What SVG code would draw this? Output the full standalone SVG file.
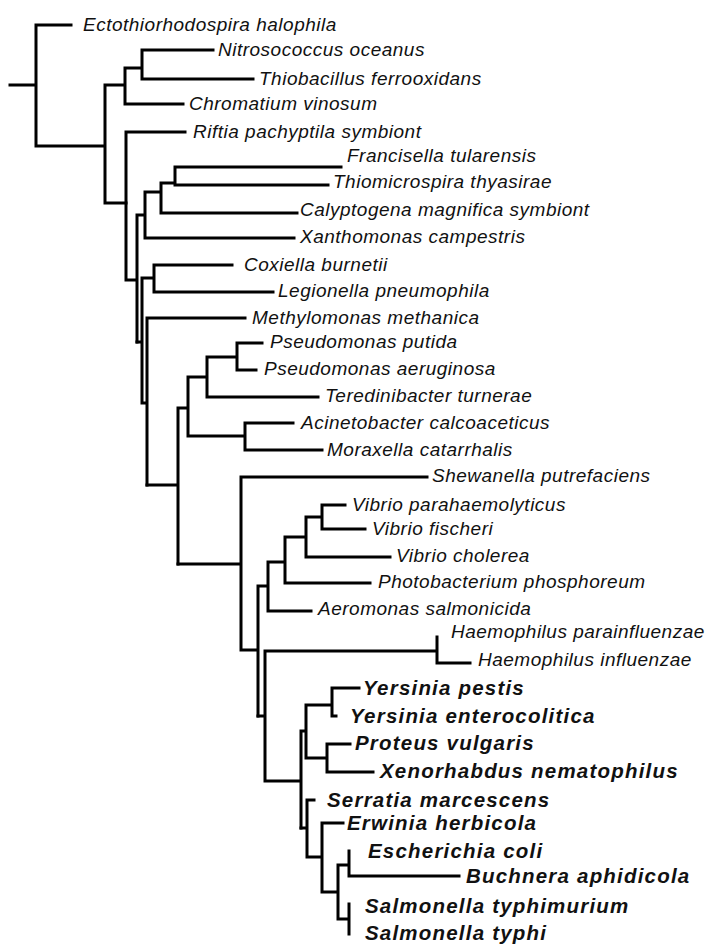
<svg xmlns="http://www.w3.org/2000/svg" width="723" height="951" viewBox="0 0 723 951">
<style>
.e{stroke:#000;stroke-width:3;fill:none;stroke-linecap:square}
text{font-family:"Liberation Sans",Arial,sans-serif;font-size:19px;letter-spacing:0.5px;font-style:italic;fill:#111}
.b{font-weight:bold;font-size:20.5px;letter-spacing:1.2px}
</style>
<rect width="723" height="951" fill="#fff"/>
<g id="connectors" class="e">
<path d="M10,85H36M36,25V146M36,25H71M36,146H105M105,85V203M105,85H125M125,68V104M125,68H142M142,50V79M142,50H213M142,79H253M125,104H183M105,203H126"/>
<path d="M126,132V280M126,132H185M126,280H137M137,215V342M137,215H145M145,192V238M145,192H161M161,183V213M161,183H175M175,167V185M175,167H341M175,185H328M161,213H297M145,238H294"/>
<path d="M137,342H142M142,278V403M142,278H154M154,265V292M154,265H232M154,292H273M142,403H147M147,318V485M147,318H245"/>
<path d="M147,485H178M178,408V564M178,408H188M188,377V436M188,377H207M207,357V397M207,357H237M237,343V370M237,343H262M237,370H256M207,397H318M188,436H245M245,423V450M245,423H293M245,450H322"/>
<path d="M178,564H241M241,477V650M241,477H427M241,650H258M258,586V716M258,586H268M268,562V611M268,611H311M268,562H285M285,537V583M285,583H370M285,537H306M306,517V557M306,557H390M306,517H322M322,505V529M322,505H345M322,529H365"/>
<path d="M258,716H265M265,651V781M265,651H437M437,637V663M437,663H470M265,781H301M301,731V828M301,731H306M306,705V758M306,705H332M332,688V716M332,688H359M332,716H336M306,758H327M327,744V772M327,744H350M327,772H373"/>
<path d="M301,828H307M307,800V857M307,800H314M307,857H322M322,823V892M322,823H343M322,892H338M338,865V919M338,865H349M349,851V876M349,876H459M338,919H349M349,904V934"/>
</g>
<g id="n1"><text x="83" y="31">Ectothiorhodospira halophila</text></g>
<g id="n2"><text x="218" y="56">Nitrosococcus oceanus</text></g>
<g id="n3"><text x="259" y="85">Thiobacillus ferrooxidans</text></g>
<g id="n4"><text x="189" y="110">Chromatium vinosum</text></g>
<g id="n5"><text x="193" y="138">Riftia pachyptila symbiont</text></g>
<g id="n6"><text x="347" y="162">Francisella tularensis</text></g>
<g id="n7"><text x="333" y="188">Thiomicrospira thyasirae</text></g>
<g id="n8"><text x="300" y="216">Calyptogena magnifica symbiont</text></g>
<g id="n9"><text x="300" y="243">Xanthomonas campestris</text></g>
<g id="n10"><text x="244" y="271">Coxiella burnetii</text></g>
<g id="n11"><text x="278" y="297">Legionella pneumophila</text></g>
<g id="n12"><text x="252" y="324">Methylomonas methanica</text></g>
<g id="n13"><text x="270" y="348">Pseudomonas putida</text></g>
<g id="n14"><text x="264" y="375">Pseudomonas aeruginosa</text></g>
<g id="n15"><text x="325" y="402">Teredinibacter turnerae</text></g>
<g id="n16"><text x="301" y="429">Acinetobacter calcoaceticus</text></g>
<g id="n17"><text x="327" y="456">Moraxella catarrhalis</text></g>
<g id="n18"><text x="432" y="482">Shewanella putrefaciens</text></g>
<g id="n19"><text x="352" y="511">Vibrio parahaemolyticus</text></g>
<g id="n20"><text x="372" y="535">Vibrio fischeri</text></g>
<g id="n21"><text x="396" y="562">Vibrio cholerea</text></g>
<g id="n22"><text x="378" y="588">Photobacterium phosphoreum</text></g>
<g id="n23"><text x="318" y="615">Aeromonas salmonicida</text></g>
<g id="n24"><text x="451" y="638">Haemophilus parainfluenzae</text></g>
<g id="n25"><text x="478" y="666">Haemophilus influenzae</text></g>
<g id="n26"><text class="b" x="363" y="695">Yersinia pestis</text></g>
<g id="n27"><text class="b" x="350" y="723">Yersinia enterocolitica</text></g>
<g id="n28"><text class="b" x="355" y="750">Proteus vulgaris</text></g>
<g id="n29"><text class="b" x="380" y="778">Xenorhabdus nematophilus</text></g>
<g id="n30"><text class="b" x="327" y="807">Serratia marcescens</text></g>
<g id="n31"><text class="b" x="347" y="830">Erwinia herbicola</text></g>
<g id="n32"><text class="b" x="368" y="858">Escherichia coli</text></g>
<g id="n33"><text class="b" x="466" y="883">Buchnera aphidicola</text></g>
<g id="n34"><text class="b" x="365" y="913">Salmonella typhimurium</text></g>
<g id="n35"><text class="b" x="365" y="940">Salmonella typhi</text></g>
</svg>
